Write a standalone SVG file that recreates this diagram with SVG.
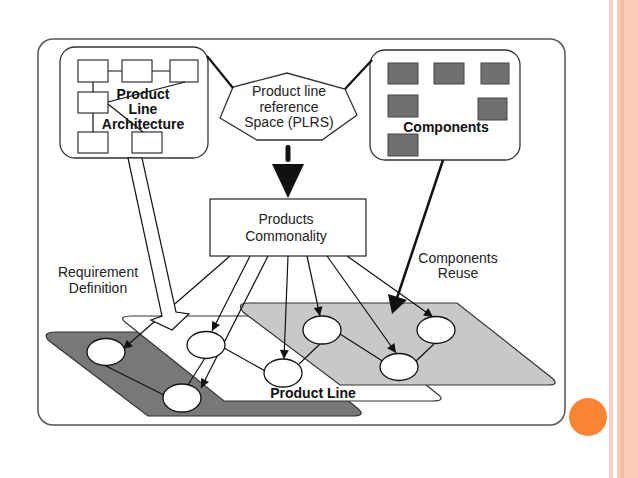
<svg xmlns="http://www.w3.org/2000/svg" width="638" height="478" viewBox="0 0 638 478">
<defs>
<style>
.t{font-family:"Liberation Sans",Arial,sans-serif;font-size:14px;fill:#222;text-anchor:middle}
.b{font-family:"Liberation Sans",Arial,sans-serif;font-size:14px;font-weight:bold;fill:#111;text-anchor:middle}
.box{fill:#fff;stroke:#333;stroke-width:1.3}
.sq{fill:#fff;stroke:#333;stroke-width:1.2}
.gsq{fill:#707070;stroke:#444;stroke-width:1}
.ln{stroke:#111;stroke-width:1.2;fill:none}
.ar{stroke:#111;stroke-width:1.2;fill:none;marker-end:url(#ah)}
.nd{fill:#fff;stroke:#111;stroke-width:1.3}
</style>
<marker id="ah" viewBox="0 0 10 10" refX="10" refY="5" markerUnits="userSpaceOnUse" markerWidth="11" markerHeight="9" orient="auto">
<path d="M0,0 L10,5 L0,10 z" fill="#111"/>
</marker>
</defs>
<rect width="638" height="478" fill="#fff"/>
<!-- right stripes -->
<rect x="609" y="0" width="4" height="478" fill="#fad0c4"/>
<rect x="617" y="0" width="21" height="478" fill="#fdcab8"/>
<rect x="621" y="0" width="3" height="478" fill="#f7b8a0"/>
<circle cx="588" cy="417" r="19" fill="#f98533"/>
<!-- outer frame -->
<rect x="38" y="39" width="527" height="386" rx="15" fill="#fff" stroke="#555" stroke-width="1.5"/>

<!-- planes -->
<g id="plane-dark">
<path d="M56,332 L262,332 L356,407 Q368,416 352,416 L148,416 L48,340 Q42,332 56,332 Z" fill="#787878" stroke="#333" stroke-width="1.2"/>
</g>
<g id="plane-productline">
<path d="M132,316 L342,316 L436,393 Q448,401 432,401 L224,401 L125,322 Q118,316 132,316 Z" fill="#fff" stroke="#333" stroke-width="1.2"/>
<text class="b" x="313" y="398">Product Line</text>
</g>
<g id="plane-light">
<path d="M248,303 L457,303 L552,378 Q560,385 548,385 L340,385 L243,312 Q236,303 248,303 Z" fill="#c8c8c8" stroke="#333" stroke-width="1.2"/>
</g>

<!-- PLA -->
<g id="pla">
<rect class="box" x="60" y="47" width="148" height="111" rx="15"/>
<rect class="sq" x="78" y="60" width="30" height="22"/>
<rect class="sq" x="122" y="60" width="30" height="22"/>
<rect class="sq" x="170" y="60" width="28" height="22"/>
<rect class="sq" x="78" y="92" width="30" height="21"/>
<rect class="sq" x="78" y="132" width="30" height="21"/>
<rect class="sq" x="132" y="132" width="30" height="21"/>
<path class="ln" d="M108,71 H122 M152,71 H170 M93,82 V92 M93,113 V132 M108,102 L185,82 M108,104 L143,132"/>
<text class="b" x="143" y="99">Product</text>
<text class="b" x="143" y="114">Line</text>
<text class="b" x="143" y="129">Architecture</text>
</g>

<!-- PLRS -->
<g id="plrs">
<polygon points="220,118 233,87 287,73 345,89 357,115 322,140 257,140" fill="#fff" stroke="#333" stroke-width="1.3"/>
<text class="t" x="289" y="96">Product line</text>
<text class="t" x="289" y="112">reference</text>
<text class="t" x="289" y="127">Space (PLRS)</text>
</g>

<!-- Components -->
<g id="components">
<rect class="box" x="370" y="50" width="150" height="110" rx="15"/>
<rect class="gsq" x="388" y="63" width="30" height="21"/>
<rect class="gsq" x="434" y="63" width="30" height="21"/>
<rect class="gsq" x="481" y="63" width="28" height="21"/>
<rect class="gsq" x="388" y="95" width="30" height="22"/>
<rect class="gsq" x="478" y="98" width="29" height="22"/>
<rect class="gsq" x="388" y="134" width="30" height="22"/>
<text class="b" x="446" y="132">Components</text>
</g>

<!-- Products Commonality -->
<g id="commonality">
<rect x="210" y="199" width="156" height="57" fill="#fff" stroke="#333" stroke-width="1.3"/>
<text class="t" x="286" y="224">Products</text>
<text class="t" x="286" y="241">Commonality</text>
</g>

<g id="labels">
<text class="t" x="98" y="277">Requirement</text>
<text class="t" x="98" y="293">Definition</text>
<text class="t" x="458" y="263">Components</text>
<text class="t" x="458" y="278">Reuse</text>
</g>

<!-- connectors -->
<g id="connectors">
<line x1="207" y1="56" x2="233" y2="88" stroke="#111" stroke-width="2.2"/>
<line x1="372" y1="60" x2="345" y2="89" stroke="#111" stroke-width="2.2"/>
<rect x="285.5" y="145" width="5" height="17" rx="2" fill="#111"/>
<polygon points="272,164 304,164 288,198" fill="#111"/>
<line x1="443" y1="160" x2="397" y2="298" stroke="#111" stroke-width="2.5"/>
<polygon points="392,314 388,294 407,300" fill="#111"/>
<!-- node edges -->
<path class="ln" d="M104,365 L166,396 M205,358 L188,385 M224,348 L267,372 M320,344 L299,364 M340,334 L384,362 M434,344 L415,362"/>
<!-- commonality arrows -->
<line class="ar" x1="230" y1="256" x2="123" y2="349"/>
<line class="ar" x1="250" y1="256" x2="212" y2="331"/>
<line class="ar" x1="268" y1="256" x2="201" y2="388"/>
<line class="ar" x1="288" y1="256" x2="284" y2="359"/>
<line class="ar" x1="307" y1="256" x2="320" y2="316"/>
<line class="ar" x1="327" y1="256" x2="396" y2="353"/>
<line class="ar" x1="347" y1="256" x2="433" y2="317"/>
<!-- hollow requirement arrow -->
<polygon points="128,158 162,316 151,320 172,330 189,314 176,312 142,158" fill="#fff" stroke="#111" stroke-width="1.2" stroke-linejoin="miter"/>
</g>

<!-- nodes -->
<g id="n1"><ellipse class="nd" cx="106" cy="352" rx="19" ry="13.5"/></g>
<g id="n2"><ellipse class="nd" cx="206" cy="345" rx="19" ry="13.5"/></g>
<g id="n3"><ellipse class="nd" cx="182" cy="398" rx="19" ry="14"/></g>
<g id="n4"><ellipse class="nd" cx="283" cy="373" rx="19" ry="14"/></g>
<g id="n5"><ellipse class="nd" cx="322" cy="330" rx="19" ry="14"/></g>
<g id="n6"><ellipse class="nd" cx="399" cy="367" rx="19" ry="13.5"/></g>
<g id="n7"><ellipse class="nd" cx="436" cy="330" rx="19" ry="13.5"/></g>
</svg>
